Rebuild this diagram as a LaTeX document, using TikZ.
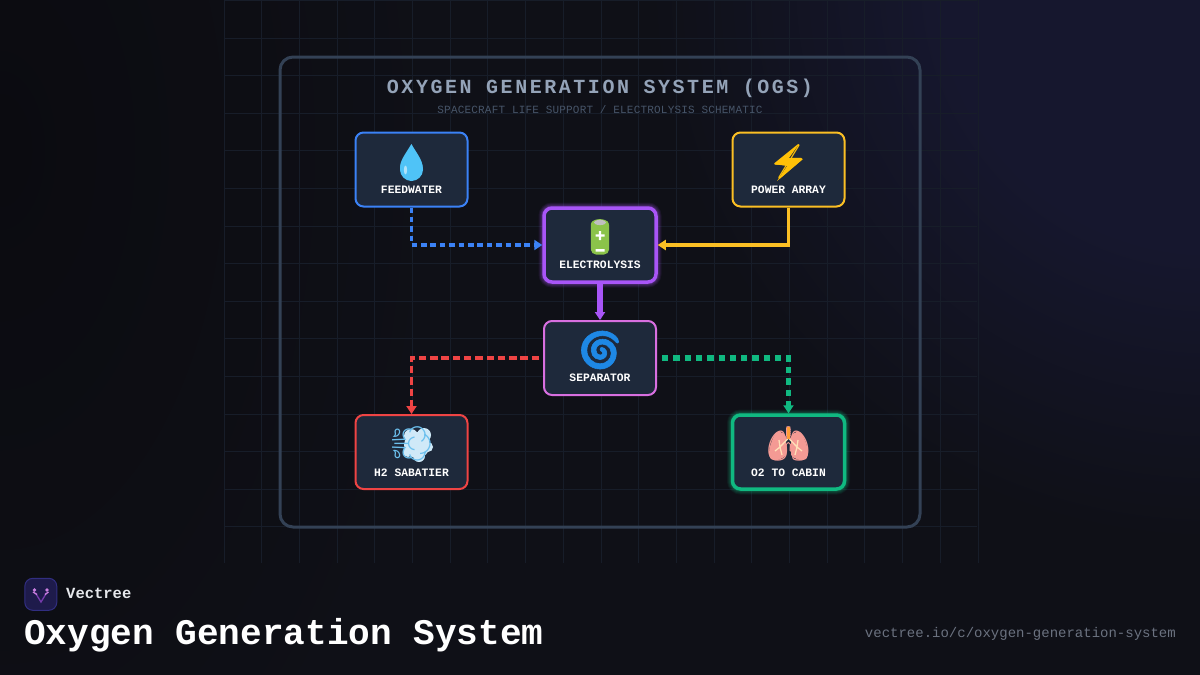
\documentclass[tikz,border=0pt]{standalone}
\usepackage{fontspec}
\usetikzlibrary{arrows.meta}
\setmainfont{Liberation Mono}
\newfontfamily\emojifont{Noto Emoji}
\definecolor{bgdark}{HTML}{0F1017}
\definecolor{bgleft}{HTML}{0B0B10}
\definecolor{bgglow}{HTML}{16172E}
\definecolor{gridcol}{HTML}{171D29}
\definecolor{framecol}{HTML}{334155}
\definecolor{boxfill}{HTML}{1E293B}
\definecolor{bluecol}{HTML}{3B82F6}
\definecolor{purplecol}{HTML}{A855F7}
\definecolor{yellowcol}{HTML}{FBBF24}
\definecolor{pinkcol}{HTML}{D86FE0}
\definecolor{redcol}{HTML}{EF4444}
\definecolor{greencol}{HTML}{10B981}
\definecolor{titlecol}{HTML}{94A3B8}
\definecolor{subcol}{HTML}{475569}
\definecolor{urlcol}{HTML}{6B7280}
\definecolor{brandcol}{HTML}{E5E7EB}
\definecolor{logofill}{HTML}{1E1B4B}
\definecolor{logoline}{HTML}{312E81}
\definecolor{dropcol}{HTML}{4FC3F7}
\definecolor{boltcol}{HTML}{FFC107}
\definecolor{battcol}{HTML}{8BC34A}
\definecolor{swirlcol}{HTML}{1E88E5}
\definecolor{puffcol}{HTML}{CFE9F8}
\definecolor{windcol}{HTML}{6CC0EE}
\definecolor{lungcol}{HTML}{F49A94}
\definecolor{creamcol}{HTML}{FFE0B8}
\pgfdeclareradialshading{glowshade}{\pgfpoint{0bp}{0bp}}{color(0bp)=(bgglow); color(12bp)=(bgglow); color(25bp)=(bgdark); color(50bp)=(bgdark)}
\tikzset{
  stage/.style={draw=#1, fill=boxfill, rounded corners=8pt, line width=2pt, minimum width=112pt, minimum height=74pt},
  glowstage/.style={stage=#1, line width=3.5pt, preaction={draw=#1, opacity=.08, line width=11pt}, preaction={draw=#1, opacity=.1, line width=9pt}, preaction={draw=#1, opacity=.12, line width=7pt}, preaction={draw=#1, opacity=.15, line width=5pt}},
  lab/.style={text=white, font=\fontsize{11.3}{13}\selectfont\bfseries},
  icon/.style={font=\fontsize{34}{36}\selectfont\emojifont, text=#1},
  pipe/.style={draw=#1, -{Triangle[length=8pt,width=10pt]}}
}
\begin{document}
\begin{tikzpicture}[x=1pt,y=-1pt]
\useasboundingbox (0,0) rectangle (1200,675);
\fill[bgdark] (0,0) rectangle (1200,675);
\begin{scope}
\clip (0,0) rectangle (1200,675);
\shade[shading=glowshade] (1210,-20) ellipse (560 and 560);
\shade[inner color=bgleft, outer color=bgdark] (0,150) ellipse (450 and 800);
\end{scope}
% grid
\foreach \gx in {0,...,20} \draw[gridcol, line width=1pt] (224+37.7*\gx,0) -- (224+37.7*\gx,563);
\foreach \gy in {0,...,14} \draw[gridcol, line width=1pt] (224,0.5+37.6*\gy) -- (977,0.5+37.6*\gy);
\draw[framecol, line width=3pt, rounded corners=13pt] (280,57) rectangle (920,527);
\node[text=titlecol, font=\fontsize{20}{24}\selectfont\bfseries] (title) at (600,88) {\addfontfeature{LetterSpace=12.7}OXYGEN GENERATION SYSTEM (OGS)};
\node[text=subcol, font=\fontsize{11}{13}\selectfont] (subtitle) at (600,110) {\addfontfeature{LetterSpace=1.8}SPACECRAFT LIFE SUPPORT / ELECTROLYSIS SCHEMATIC};
% stages
\node[stage=bluecol] (feed) at (411.5,169.5) {};
\node[stage=yellowcol] (power) at (788.5,169.5) {};
\node[glowstage=purplecol] (elec) at (600,245) {};
\node[stage=pinkcol] (sep) at (600,358) {};
\node[stage=redcol] (sab) at (411.5,452) {};
\node[glowstage=greencol] (cabin) at (788.5,452) {};
% connectors
\draw[pipe=bluecol, line width=3.5pt, dash pattern=on 5.5pt off 3.9pt] (feed) |- (elec);
\draw[pipe=yellowcol, line width=3.5pt] (power) |- (elec);
\draw[pipe=purplecol, line width=6pt] (elec) -- (sep);
\draw[pipe=redcol, line width=3.75pt, dash pattern=on 7.5pt off 3.8pt, dash phase=7.5pt] (sep) -| (sab);
\draw[pipe=greencol, line width=5.5pt, dash pattern=on 6.3pt off 5pt, dash phase=6.3pt] (sep) -| (cabin);
% icon bodies
\fill[dropcol] (411.5,144) .. controls (410,149) and (400,160) .. (400,169.5) arc (180:0:11.5) .. controls (423,160) and (413,149) .. (411.5,144);
\fill[boltcol] (799,144) -- (774,164) -- (787,166) -- (777,181) -- (803,159) -- (789,158) -- cycle;
\fill[battcol, rounded corners=5pt] (591,220) rectangle (609,254.5);
\fill[puffcol] (417,445) circle (13) (411,436) circle (7) (424,435) circle (7) (428,447) circle (5) (419,456) circle (6) (408,452) circle (5);
\fill[lungcol] (786,437) .. controls (782,430) and (776,430) .. (774,436) .. controls (770,444) and (767,455) .. (771,459) .. controls (775,462) and (783,459) .. (786,455) -- cycle;
\fill[lungcol] (791,437) .. controls (795,430) and (801,430) .. (803,436) .. controls (807,444) and (810,455) .. (806,459) .. controls (802,462) and (794,459) .. (791,455) -- cycle;
% icons and labels
\node[icon=dropcol] (feedicon) at (411.5,162) {💧};
\node[icon=boltcol] (powericon) at (788.5,162) {⚡};
\node[icon=battcol] (elecicon) at (600,237) {🔋};
\node[icon=swirlcol] (sepicon) at (600,350) {\addfontfeature{FakeBold=1.5}\fontsize{39}{40}\selectfont 🌀};
\node[icon=windcol] (sabicon) at (411.5,444) {💨};
\node[icon=lungcol] (cabinicon) at (788.5,444) {🫁};
% icon details
\fill[white, opacity=.55] (405.5,170) ellipse (1.6 and 4.5);
\fill[gray!50] (600,222.5) ellipse (6 and 2.6);
\fill[white] (598.8,231) rectangle (601.2,240) (595.5,234.3) rectangle (604.5,236.7) (595.5,249) rectangle (604.5,251.5);
\draw[creamcol, line width=1.3pt] (788.5,438) -- (780,447) -- (775,451) (780,447) -- (779,440) (780,447) -- (782,455) (788.5,438) -- (797,447) -- (802,451) (797,447) -- (798,440) (797,447) -- (795,455);
\fill[orange!70!creamcol] (787,427) rectangle (790,439);
\node[lab] (feedlab) at (411.5,190) {FEEDWATER};
\node[lab] (powerlab) at (788.5,190) {POWER ARRAY};
\node[lab] (eleclab) at (600,265) {ELECTROLYSIS};
\node[lab] (seplab) at (600,378) {SEPARATOR};
\node[lab] (sablab) at (411.5,473) {H2 SABATIER};
\node[lab] (cabinlab) at (788.5,473) {O2 TO CABIN};
% footer
\node[draw=logoline, fill=logofill, rounded corners=8pt, line width=1pt, minimum width=32pt, minimum height=32pt] (logo) at (40.8,594.3) {};
\coordinate (logoroot) at (41,602);
\draw[purplecol!70!black, line width=1.3pt] (35.5,593) -- (logoroot) -- (46.5,593);
\fill[purplecol!60!pink] (34.5,590) circle (1.8) (47,590) circle (1.8);
\draw[purplecol!60!pink, line width=1.3pt] (33,592) -- (37,594.5) (48.5,592) -- (45,594.5);
\node[text=brandcol, font=\fontsize{15.5}{18}\selectfont\bfseries, anchor=west, inner sep=0pt] (brand) at (66,593.5) {Vectree};
\node[text=white, font=\fontsize{36.05}{40}\selectfont\bfseries, anchor=west, inner sep=0pt] (heading) at (24,635) {Oxygen Generation System};
\node[text=urlcol, font=\fontsize{14}{16}\selectfont, anchor=east, inner sep=0pt] (url) at (1176,633.7) {vectree.io/c/oxygen-generation-system};
\end{tikzpicture}
\end{document}
